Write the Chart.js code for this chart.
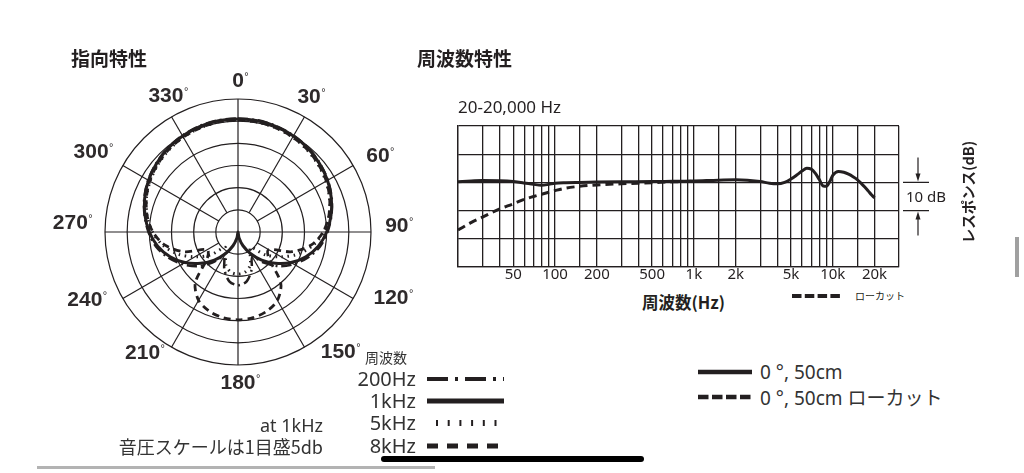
<!DOCTYPE html>
<html lang="ja">
<head>
<meta charset="utf-8">
<title>指向特性 / 周波数特性</title>
<script src="https://cdn.jsdelivr.net/npm/chart.js@4.4.1/dist/chart.umd.min.js"></script>
<style>
  html, body { margin: 0; padding: 0; background: #fff; }
  body {
    width: 1024px; height: 473px; position: relative; overflow: hidden;
    font-family: "Noto Sans", "Noto Sans CJK JP", sans-serif; color: #231f20;
  }
  canvas { position: absolute; }
  .t { position: absolute; white-space: nowrap; line-height: 1; transform: translateY(-50%); }
  .jp { font-family: "Noto Sans CJK JP", sans-serif; }
  .grey { color: #333; }
  svg { position: absolute; overflow: visible; }
</style>
</head>
<body>

<canvas id="polar" width="420" height="420" style="left:28px; top:22px;"></canvas>
<canvas id="freq" width="510" height="170" style="left:448px; top:116px;"></canvas>

<!-- titles -->
<div class="t jp" style="left:71px; top:57px; font-weight:bold; font-size:19px;">指向特性</div>
<div class="t jp" style="left:417px; top:57px; font-weight:bold; font-size:19px;">周波数特性</div>
<div class="t" style="left:458px; top:106px; font-size:17px;">20-20,000 Hz</div>
<div class="t jp" style="left:642px; top:302px; font-weight:bold; font-size:16.5px;">周波数(Hz)</div>

<!-- low cut key under the response chart -->
<svg style="left:791px; top:290px;" width="52" height="12">
  <line x1="1" y1="6" x2="49" y2="6" stroke="#231f20" stroke-width="4" stroke-dasharray="9.5 3.3"/>
</svg>
<div class="t jp" style="left:855px; top:296px; font-size:10px;">ローカット</div>

<!-- vertical axis title -->
<div style="position:absolute; left:968px; top:192px; width:0; height:0;">
  <div class="jp" style="position:absolute; left:0; top:0; white-space:nowrap; line-height:1; font-weight:bold; font-size:14.5px; transform:translate(-50%,-50%) rotate(-90deg);">レスポンス(dB)</div>
</div>

<!-- polar key -->
<div class="t jp grey" style="left:365px; top:357px; font-size:14px;">周波数</div>
<div class="t grey" style="right:608px; top:379px; font-size:20px;">200Hz</div>
<div class="t grey" style="right:608px; top:401px; font-size:20px;">1kHz</div>
<div class="t grey" style="right:608px; top:423px; font-size:20px;">5kHz</div>
<div class="t grey" style="right:608px; top:446px; font-size:20px;">8kHz</div>
<svg style="left:426px; top:368px;" width="80" height="86">
  <line x1="1" y1="11" x2="78" y2="11" stroke="#231f20" stroke-width="4" stroke-dasharray="21 7 3 7"/>
  <line x1="1" y1="33" x2="78" y2="33" stroke="#231f20" stroke-width="5"/>
  <line x1="10" y1="55" x2="78" y2="55" stroke="#231f20" stroke-width="6" stroke-dasharray="2 9.7"/>
  <line x1="1" y1="78" x2="78" y2="78" stroke="#231f20" stroke-width="5" stroke-dasharray="11 9"/>
</svg>
<div class="t grey" style="right:701px; top:425px; font-size:18px;">at 1kHz</div>
<div class="t jp grey" style="right:701px; top:446px; font-size:18px;">音圧スケールは1目盛5db</div>

<!-- response key -->
<svg style="left:697px; top:360px;" width="58" height="45">
  <line x1="1" y1="12" x2="55" y2="12" stroke="#231f20" stroke-width="4.5"/>
  <line x1="1" y1="37" x2="55" y2="37" stroke="#231f20" stroke-width="4.5" stroke-dasharray="10.5 3.5"/>
</svg>
<div class="t grey" style="left:760px; top:372px; font-size:19px;">0 °, 50cm</div>
<div class="t grey" style="left:760px; top:397px; font-size:19px;">0 °, 50cm <span class="jp">ローカット</span></div>

<!-- page furniture -->
<div style="position:absolute; left:37px; top:466px; width:398px; height:3px; background:#b3b3b3;"></div>
<div style="position:absolute; left:381px; top:456px; width:263px; height:6px; border-radius:3px; background:#000;"></div>
<div style="position:absolute; left:1015px; top:237px; width:4px; height:40px; background:#a0a0a0;"></div>

<script>
const INK = '#231f20';

// ---- 指向特性: angle every 10 deg, radius in scale units (1 ring = 5 dB) ----
const polarAngles = [0, 10, 20, 30, 40, 50, 60, 70, 80, 90, 100, 110, 120, 130, 140, 150, 160, 170,
                     180, 190, 200, 210, 220, 230, 240, 250, 260, 270, 280, 290, 300, 310, 320, 330, 340, 350];
const pattern1kHz = [25.5, 25.5, 25.3, 25.0, 24.6, 24.0, 23.3, 22.4, 21.3, 20.0, 18.4, 16.3, 13.8, 11.0, 8.3, 5.6, 3.3, 1.3,
                     0.0, 1.3, 3.3, 5.6, 8.3, 11.0, 13.8, 16.3, 18.4, 20.0, 21.3, 22.4, 23.3, 24.0, 24.6, 25.0, 25.3, 25.5];
const pattern200Hz = [25.6, 25.6, 25.4, 25.1, 24.7, 24.1, 23.4, 22.5, 21.4, 20.2, 18.8, 16.8, 14.5, 12.0, 9.0, 6.5, 9.0, 11.3,
                      12.0, 11.3, 9.0, 6.5, 9.0, 12.0, 14.5, 16.8, 18.8, 20.2, 21.4, 22.5, 23.4, 24.1, 24.7, 25.1, 25.4, 25.6];
const pattern5kHz = [25.2, 25.2, 25.0, 24.7, 24.2, 23.6, 22.9, 22.0, 20.8, 19.3, 17.2, 14.5, 11.2, 8.0, 4.5, 5.5, 8.0, 9.2,
                     9.5, 9.2, 8.0, 5.5, 4.5, 8.0, 11.2, 14.5, 17.2, 19.3, 20.8, 22.0, 22.9, 23.6, 24.2, 24.7, 25.0, 25.2];
const pattern8kHz = [25.3, 25.2, 25.0, 24.7, 24.3, 23.7, 23.0, 22.0, 20.8, 19.2, 16.8, 13.0, 8.0, 9.0, 15.0, 17.8, 19.0, 19.6,
                     19.8, 19.6, 19.0, 17.8, 15.0, 9.0, 8.0, 13.0, 16.8, 19.2, 20.8, 22.0, 23.0, 23.7, 24.3, 24.7, 25.0, 25.2];
const angleLabels = ['0', '30', '60', '90', '120', '150', '180', '210', '240', '270', '300', '330'];

// where each angle label sits round the outer ring (deg, px from centre)
const labelAngle = [0, 27.5, 61, 87.3, 112.8, 139.7, 180, 218.6, 246.5, 273.6, 299, 332.3];
const labelDist = [153, 154, 160, 159, 166, 155, 149, 153, 167, 168, 168, 155];

// ---- 周波数特性 ----
const freqs = [20, 25, 30, 40, 50, 60, 70, 80, 90, 100, 120, 150, 200, 300, 500, 700, 1000, 1500, 2000, 3000,
               3500, 4000, 4500, 5000, 5500, 6000, 6500, 7000, 7500, 8000, 8500, 9000, 9500, 10000,
               11000, 12000, 13000, 14000, 15000, 16000, 17000, 18000, 19000, 20000];
const response0 = [0.2, 0.5, 0.7, 0.6, 0.3, -0.2, -0.7, -1.0, -0.7, -0.3, -0.1, 0.0, 0.1, 0.2, 0.3, 0.4, 0.5, 0.8, 0.9, 0.3,
                   -0.3, -0.5, 0.0, 1.2, 2.6, 4.0, 5.0, 4.7, 3.2, 1.0, -1.2, -1.4, 0.2, 2.5,
                   3.9, 3.6, 2.9, 2.0, 1.0, -0.3, -1.6, -3.0, -4.4, -5.5];
const responseLowCut = [-16.9, -14.2, -12.3, -9.4, -7.6, -6.0, -5.0, -4.2, -3.5, -2.9, -2.0, -1.4, -0.9, -0.5, -0.1, 0.2, 0.4];

const gridFreqs = [20, 30, 40, 50, 60, 70, 80, 90, 100, 150, 200, 300, 400, 500, 600, 700, 800, 900,
                   1000, 1500, 2000, 3000, 4000, 5000, 6000, 7000, 8000, 9000, 10000, 15000, 20000, 30000];
const tickFreqs = [50, 100, 200, 500, 1000, 2000, 5000, 10000, 20000];
const tickText = ['50', '100', '200', '500', '1k', '2k', '5k', '10k', '20k'];
const markerTop = 0;      // dB
const markerSpan = 10;    // dB

/**
 * Spokes (every 30 deg) and angle labels for the polar plot
 */
const polarDecor = {
  id: 'polarDecor',
  beforeDatasetsDraw(chart) {
    const r = chart.scales.r;
    const ctx = chart.ctx;
    ctx.save();
    ctx.strokeStyle = INK;
    ctx.lineWidth = 1.2;
    for (let i = 0; i < polarAngles.length; i += 3) {
      // main axes go through the centre, the others start at the first ring
      const from = polarAngles[i] % 90 === 0 ? 0 : 5;
      const a = r.getPointPositionForValue(i, from);
      const b = r.getPointPositionForValue(i, r.max);
      ctx.beginPath();
      ctx.moveTo(a.x, a.y);
      ctx.lineTo(b.x, b.y);
      ctx.stroke();
    }
    ctx.restore();
  },
  afterDraw(chart) {
    const r = chart.scales.r;
    const ctx = chart.ctx;
    ctx.save();
    ctx.fillStyle = '#2e2a2b';
    angleLabels.forEach((txt, k) => {
      const a = labelAngle[k] * Math.PI / 180;
      const x = r.xCenter + labelDist[k] * Math.sin(a);
      const y = r.yCenter - labelDist[k] * Math.cos(a);
      ctx.font = 'bold 21px "Liberation Sans", Arial, sans-serif';
      ctx.textAlign = 'center';
      ctx.textBaseline = 'alphabetic';
      ctx.fillText(txt, x, y + 7.5);
      const w = ctx.measureText(txt).width;
      ctx.font = '11px "Liberation Sans", Arial, sans-serif';
      ctx.textAlign = 'left';
      ctx.fillText('°', x + w / 2 + 0.5, y + 0.5);
    });
    ctx.restore();
  }
};

/**
 * "10 dB" scale marker to the right of the response plot
 */
const tenDbMarker = {
  id: 'tenDbMarker',
  afterDraw(chart) {
    const { ctx, chartArea } = chart;
    const y = chart.scales.y;
    const y0 = y.getPixelForValue(markerTop);
    const y1 = y.getPixelForValue(markerTop - markerSpan);
    const xc = chartArea.right + 19;
    ctx.save();
    ctx.strokeStyle = INK;
    ctx.fillStyle = INK;
    ctx.lineWidth = 1.2;
    ctx.beginPath();
    [y0, y1].forEach(yy => {
      ctx.moveTo(chartArea.right + 4, yy);
      ctx.lineTo(chartArea.right + 30, yy);
    });
    ctx.moveTo(xc, y0 - 25);
    ctx.lineTo(xc, y0 - 6);
    ctx.moveTo(xc, y1 + 6);
    ctx.lineTo(xc, y1 + 25);
    ctx.stroke();
    // arrow heads pointing at the two bars
    ctx.beginPath();
    ctx.moveTo(xc, y0 - 1); ctx.lineTo(xc - 2.5, y0 - 9); ctx.lineTo(xc + 2.5, y0 - 9); ctx.closePath();
    ctx.moveTo(xc, y1 + 1); ctx.lineTo(xc - 2.5, y1 + 9); ctx.lineTo(xc + 2.5, y1 + 9); ctx.closePath();
    ctx.fill();
    ctx.font = '15px "Noto Sans", sans-serif';
    ctx.textAlign = 'center';
    ctx.textBaseline = 'middle';
    ctx.fillText(markerSpan + ' dB', chartArea.right + 27, (y0 + y1) / 2 + 1);
    ctx.restore();
  }
};

const polarLine = {
  borderColor: INK,
  backgroundColor: 'transparent',
  fill: false,
  pointRadius: 0,
  tension: 0.3
};

new Chart(document.getElementById('polar'), {
  type: 'radar',
  data: {
    labels: polarAngles.map(a => a + '°'),
    datasets: [
      { ...polarLine, label: '1kHz', data: pattern1kHz, borderWidth: 3 },
      { ...polarLine, label: '8kHz', data: pattern8kHz, borderWidth: 2.8, borderDash: [7, 5] },
      { ...polarLine, label: '5kHz', data: pattern5kHz, borderWidth: 3, borderDash: [1.5, 4.5] },
      { ...polarLine, label: '200Hz', data: pattern200Hz, borderWidth: 2.5, borderDash: [10, 4, 2, 4] }
    ]
  },
  options: {
    responsive: false,
    animation: false,
    layout: { padding: 77 },
    plugins: { legend: { display: false }, tooltip: { enabled: false } },
    scales: {
      r: {
        min: 0,
        max: 30,
        ticks: { display: false, stepSize: 5 },
        grid: { circular: true, color: INK, lineWidth: 1.2 },
        angleLines: { display: false },
        pointLabels: { display: false }
      }
    }
  },
  plugins: [polarDecor]
});

new Chart(document.getElementById('freq'), {
  type: 'line',
  data: {
    datasets: [
      {
        label: '0°, 50cm',
        data: freqs.map((f, i) => ({ x: f, y: response0[i] })),
        borderColor: INK, borderWidth: 3, pointRadius: 0,
        cubicInterpolationMode: 'monotone'
      },
      {
        label: '0°, 50cm ローカット',
        data: responseLowCut.map((v, i) => ({ x: freqs[i], y: v })),
        borderColor: INK, borderWidth: 3, pointRadius: 0, borderDash: [8, 5],
        cubicInterpolationMode: 'monotone'
      }
    ]
  },
  options: {
    responsive: false,
    animation: false,
    layout: { padding: { left: 10, top: 10, right: 59, bottom: 3 } },
    plugins: { legend: { display: false }, tooltip: { enabled: false } },
    scales: {
      x: {
        type: 'logarithmic',
        min: 20,
        max: 30000,
        afterBuildTicks: axis => { axis.ticks = gridFreqs.map(v => ({ value: v })); },
        ticks: {
          autoSkip: false,
          maxRotation: 0,
          padding: -1,
          color: INK,
          font: { family: '"Noto Sans", sans-serif', size: 15 },
          callback: v => {
            const k = tickFreqs.indexOf(v);
            return k < 0 ? '' : tickText[k];
          }
        },
        grid: { color: INK, lineWidth: 1.3, drawTicks: false },
        border: { color: INK, width: 1.3 }
      },
      y: {
        min: -30,
        max: 20,
        ticks: { display: false, stepSize: 10 },
        grid: { color: INK, lineWidth: 1.3, drawTicks: false },
        border: { color: INK, width: 1.3 }
      }
    }
  },
  plugins: [tenDbMarker]
});
</script>
</body>
</html>
